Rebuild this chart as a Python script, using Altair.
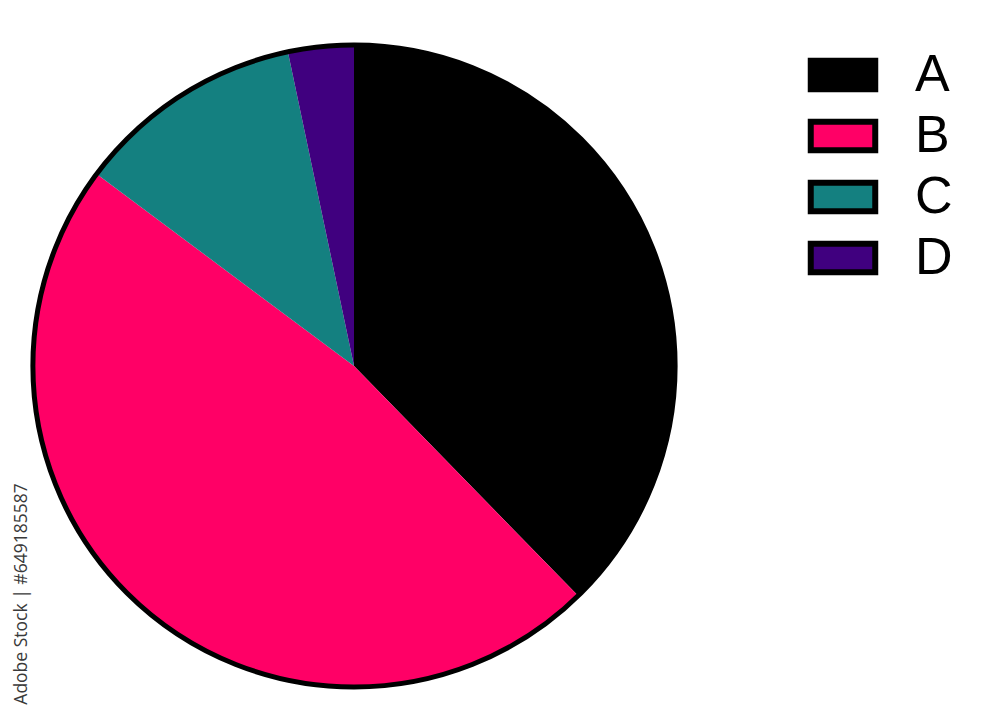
import altair as alt
import pandas as pd

categories = ["A", "B", "C", "D"]
values = [37.7, 47.5, 11.5, 3.3]
colors = ["#000000", "#FF0066", "#148080", "#40007F"]
watermark = ["Adobe Stock | #649185587"]

df = pd.DataFrame({"category": categories, "value": values, "order": list(range(len(categories)))})
ring_df = pd.DataFrame({"value": [sum(values)]})
wm_df = pd.DataFrame({"t": watermark})

CX, CY, R = 346, 358, 321

pie = alt.Chart(df).mark_arc(radius=R).encode(
    theta=alt.Theta("value:Q", stack=True),
    order=alt.Order("order:Q"),
    x=alt.value(CX),
    y=alt.value(CY),
    color=alt.Color(
        "category:N",
        scale=alt.Scale(domain=categories, range=colors),
        legend=alt.Legend(
            title=None,
            orient="none",
            legendX=809,
            legendY=41,
            symbolType="M-2,-0.889H2V0.889H-2Z",
            symbolSize=1040,
            symbolStrokeColor="black",
            symbolStrokeWidth=6,
            symbolOpacity=1,
            labelFont="Liberation Sans",
            labelFontSize=52,
            labelColor="black",
            labelOffset=46,
            rowPadding=7,
        ),
    ),
)

ring = alt.Chart(ring_df).mark_arc(
    radius=R, fillOpacity=0, stroke="black", strokeWidth=5
).encode(theta=alt.Theta("value:Q"), x=alt.value(CX), y=alt.value(CY))

wm = alt.Chart(wm_df).mark_text(
    angle=270, fontSize=17.5, color="#3a3a3a", font="Open Sans"
).encode(text="t:N", x=alt.value(14), y=alt.value(586))

chart = alt.layer(pie, ring, wm).properties(
    width=984, height=704, padding=0
).configure_view(stroke=None)

chart.save("out.html", embed_options={"renderer": "svg", "actions": False})
